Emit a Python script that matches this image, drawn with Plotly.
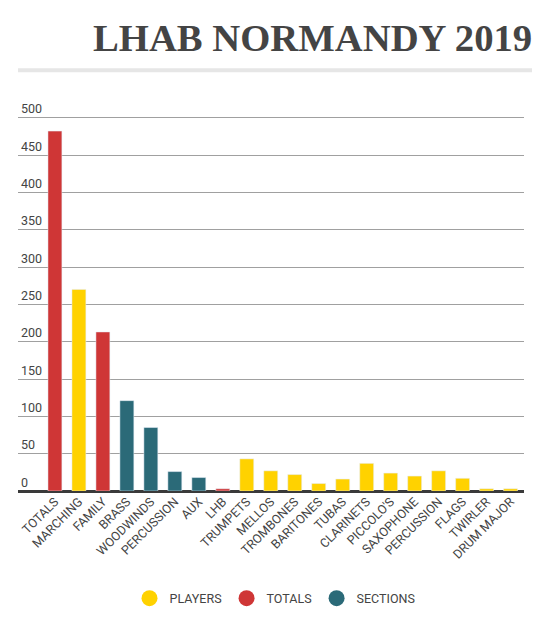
import plotly.graph_objects as go

categories = ["TOTALS", "MARCHING", "FAMILY", "BRASS", "WOODWINDS", "PERCUSSION", "AUX", "LHB",
              "TRUMPETS", "MELLOS", "TROMBONES", "BARITONES", "TUBAS", "CLARINETS", "PICCOLO'S",
              "SAXOPHONE", "PERCUSSION", "FLAGS", "TWIRLER", "DRUM MAJOR"]
values = [482, 270, 213, 121, 85, 26, 18, 3,
          43, 27, 22, 10, 16, 37, 24,
          20, 27, 17, 3, 3]
groups = ["TOTALS", "PLAYERS", "TOTALS", "SECTIONS", "SECTIONS", "SECTIONS", "SECTIONS", "TOTALS",
          "PLAYERS", "PLAYERS", "PLAYERS", "PLAYERS", "PLAYERS", "PLAYERS", "PLAYERS",
          "PLAYERS", "PLAYERS", "PLAYERS", "PLAYERS", "PLAYERS"]
series_names = ["PLAYERS", "TOTALS", "SECTIONS"]
series_colors = {"PLAYERS": "#ffd200", "TOTALS": "#cf3636", "SECTIONS": "#2b6a78"}
y_ticks = [0, 50, 100, 150, 200, 250, 300, 350, 400, 450, 500]

W, H = 556, 626
L, R, T, B = 18, 32, 99.4, 124
pw, ph = W - L - R, H - T - B

def px_x(p):
    return (p - L) / pw

def px_y(p):
    return (H - B - p) / ph

fig = go.Figure()
for s in series_names:
    xs = [i for i, g in enumerate(groups) if g == s]
    ys = [values[i] for i in xs]
    fig.add_trace(go.Bar(x=xs, y=ys, name=s, marker_color=series_colors[s],
                         width=0.58, showlegend=False, hoverinfo="skip"))
for s in series_names:
    fig.add_trace(go.Scatter(x=[None], y=[None], mode="markers", name=s,
                             marker=dict(symbol="circle", size=16, color=series_colors[s])))

fig.update_layout(
    width=W, height=H,
    margin=dict(l=L, r=R, t=T, b=B, pad=0),
    paper_bgcolor="white", plot_bgcolor="white",
    barmode="overlay",
    font=dict(family="Roboto", color="#444444", size=12),
    xaxis=dict(
        range=[-1.54, 19.56],
        tickmode="array", tickvals=list(range(len(categories))), ticktext=categories,
        tickangle=-45, tickfont=dict(size=12.5, color="#444444", family="Roboto"),
        showgrid=False, showline=False, ticks="", zeroline=False,
    ),
    yaxis=dict(
        range=[0, 525],
        tickmode="array", tickvals=y_ticks,
        ticklabelposition="inside top",
        tickfont=dict(size=12.5, color="#444444", family="Roboto"),
        showgrid=True, gridcolor="#a0a0a0", gridwidth=1,
        zeroline=True, zerolinecolor="#3a3a3a", zerolinewidth=2.5,
        showline=False, ticks="",
    ),
    legend=dict(orientation="h", x=px_x(275), xanchor="center", y=px_y(612.5), yanchor="middle",
                font=dict(size=12.5, color="#444444", family="Roboto"),
                itemsizing="trace", itemwidth=30, bgcolor="rgba(0,0,0,0)"),
    annotations=[dict(
        text="<b>LHAB NORMANDY 2019</b>", xref="paper", yref="paper",
        x=px_x(534), y=px_y(37), xanchor="right", yanchor="middle", showarrow=False,
        font=dict(family="Liberation Serif", size=38.7, color="#444444"),
    )],
    shapes=[dict(type="line", xref="paper", yref="paper",
                 x0=px_x(18), x1=px_x(532), y0=px_y(70), y1=px_y(70),
                 line=dict(color="#e6e6e6", width=4))],
)

page_fix = (
    "var d=document.documentElement,b=document.body;"
    "d.style.margin='0';d.style.padding='0';d.style.overflow='hidden';"
    "b.style.margin='0';b.style.padding='0';b.style.overflow='hidden';"
)
fig.write_html("out.html", config={"displayModeBar": False}, post_script=page_fix)
